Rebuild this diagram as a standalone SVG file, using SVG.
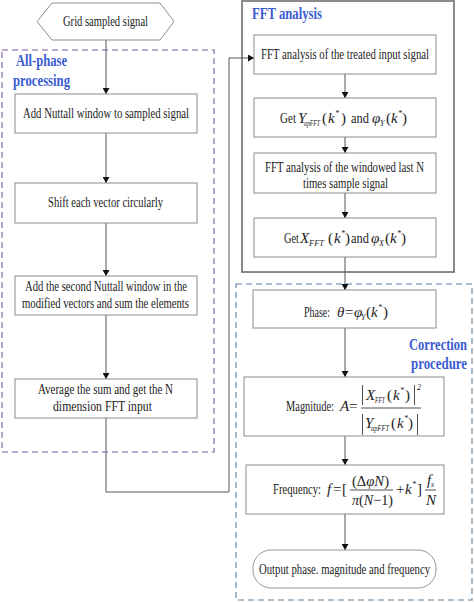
<svg xmlns="http://www.w3.org/2000/svg" width="474" height="602" viewBox="0 0 474 602">
<style>
.box{fill:#fff;stroke:#8c8c8c;stroke-width:1}
.t{font-family:"Liberation Serif",serif;font-size:14px;fill:#222}
.mi{font-family:"Liberation Serif",serif;font-style:italic;font-size:15px;fill:#222}
.mr{font-family:"Liberation Serif",serif;font-size:15px;fill:#222}
.sb{font-family:"Liberation Serif",serif;font-style:italic;font-size:8px;fill:#222}
.lbl{font-family:"Liberation Serif",serif;font-weight:bold;font-size:17px;fill:#3a5bd0}
.conn{stroke:#555;stroke-width:1;fill:none;marker-end:url(#arr)}
.ln{stroke:#222;stroke-width:0.8}
</style>
<defs>
<marker id="arr" markerWidth="6" markerHeight="7" refX="6" refY="3.5" orient="auto" markerUnits="userSpaceOnUse"><path d="M0,0 L6,3.5 L0,7 z" fill="#111"/></marker>
</defs>
<rect width="474" height="602" fill="#fff"/>

<g id="allphase-group">
<rect x="2" y="50" width="212" height="402" fill="none" stroke="#a68fc4" stroke-width="1.6" stroke-dasharray="6,4"/>
<text class="lbl" x="16" y="66" textLength="51" lengthAdjust="spacingAndGlyphs">All-phase</text>
<text class="lbl" x="13" y="86" textLength="57" lengthAdjust="spacingAndGlyphs">processing</text>
</g>
<g id="fft-group">
<rect x="242" y="1" width="212" height="271" fill="none" stroke="#666" stroke-width="1.5"/>
<text class="lbl" x="252" y="19" textLength="70" lengthAdjust="spacingAndGlyphs">FFT analysis</text>
</g>
<g id="correction-group">
<rect x="236" y="284" width="236" height="316" fill="none" stroke="#8fa8c0" stroke-width="1.6" stroke-dasharray="6,4"/>
<text class="lbl" x="409" y="350" textLength="58" lengthAdjust="spacingAndGlyphs">Correction</text>
<text class="lbl" x="411" y="369" textLength="56" lengthAdjust="spacingAndGlyphs">procedure</text>
</g>

<g id="connectors">
<path class="conn" d="M106,40 V94"/>
<path class="conn" d="M106,133 V183"/>
<path class="conn" d="M106,223 V276"/>
<path class="conn" d="M106,315 V379"/>
<path class="conn" d="M106,418 V492 H229 V58 H254"/>
<path class="conn" d="M345,74 V98"/>
<path class="conn" d="M345,137 V153"/>
<path class="conn" d="M345,193 V218"/>
<path class="conn" d="M345,257 V290"/>
<path class="conn" d="M345,328 V377"/>
<path class="conn" d="M345,436 V465"/>
<path class="conn" d="M345,514 V550"/>
</g>

<g id="start">
<polygon class="box" points="37,21.5 52,3 160,3 174,21.5 160,40 52,40"/>
<text class="t" x="63" y="26" textLength="85" lengthAdjust="spacingAndGlyphs">Grid sampled signal</text>
</g>
<g id="nuttall1">
<rect class="box" x="15" y="94" width="182" height="39"/>
<text class="t" x="23" y="118" textLength="166" lengthAdjust="spacingAndGlyphs">Add Nuttall window to sampled signal</text>
</g>
<g id="shift">
<rect class="box" x="15" y="183" width="182" height="40"/>
<text class="t" x="48" y="207" textLength="115" lengthAdjust="spacingAndGlyphs">Shift each vector circularly</text>
</g>
<g id="nuttall2">
<rect class="box" x="15" y="276" width="182" height="39"/>
<text class="t" x="25" y="291" textLength="162" lengthAdjust="spacingAndGlyphs">Add the second Nuttall window in the</text>
<text class="t" x="22" y="308" textLength="167" lengthAdjust="spacingAndGlyphs">modified vectors and sum the elements</text>
</g>
<g id="average">
<rect class="box" x="15" y="379" width="182" height="39"/>
<text class="t" x="38" y="394" textLength="135" lengthAdjust="spacingAndGlyphs">Average the sum and get the  N</text>
<text class="t" x="53" y="411" textLength="99" lengthAdjust="spacingAndGlyphs">dimension FFT input</text>
</g>

<g id="fft-treated">
<rect class="box" x="254" y="35" width="182" height="39"/>
<text class="t" x="261" y="59" textLength="168" lengthAdjust="spacingAndGlyphs">FFT analysis of the treated input signal</text>
</g>
<g id="get-y">
<rect class="box" x="254" y="98" width="182" height="39"/>
<text class="t" x="280" y="123" textLength="16" lengthAdjust="spacingAndGlyphs">Get</text>
<text class="mi" x="298" y="123">Y</text>
<text class="sb" x="304" y="126" textLength="16" lengthAdjust="spacingAndGlyphs">apFFT</text>
<text class="mr" x="322" y="123">(</text>
<text class="mi" x="328" y="123">k</text>
<text class="sb" x="335" y="116">*</text>
<text class="mr" x="341" y="123">)</text>
<text class="t" x="351" y="123" textLength="18" lengthAdjust="spacingAndGlyphs">and</text>
<text class="mi" x="372" y="123">φ</text>
<text class="sb" x="380" y="126">Y</text>
<text class="mr" x="386" y="123">(</text>
<text class="mi" x="391" y="123">k</text>
<text class="sb" x="398" y="116">*</text>
<text class="mr" x="402" y="123">)</text>
</g>
<g id="fft-windowed">
<rect class="box" x="254" y="153" width="182" height="40"/>
<text class="t" x="265" y="172" textLength="159" lengthAdjust="spacingAndGlyphs">FFT analysis of the windowed last N</text>
<text class="t" x="303" y="188" textLength="85" lengthAdjust="spacingAndGlyphs">times sample signal</text>
</g>
<g id="get-x">
<rect class="box" x="254" y="218" width="182" height="39"/>
<text class="t" x="284" y="243" textLength="15" lengthAdjust="spacingAndGlyphs">Get</text>
<text class="mi" x="300" y="243">X</text>
<text class="sb" x="309" y="246" textLength="15" lengthAdjust="spacingAndGlyphs">FFT</text>
<text class="mr" x="328" y="243">(</text>
<text class="mi" x="334" y="243">k</text>
<text class="sb" x="341" y="236">*</text>
<text class="mr" x="345" y="243">)</text>
<text class="t" x="351" y="243" textLength="18" lengthAdjust="spacingAndGlyphs">and</text>
<text class="mi" x="371" y="243">φ</text>
<text class="sb" x="379" y="246">X</text>
<text class="mr" x="385" y="243">(</text>
<text class="mi" x="390" y="243">k</text>
<text class="sb" x="397" y="236">*</text>
<text class="mr" x="401" y="243">)</text>
</g>

<g id="phase">
<rect class="box" x="253" y="290" width="183" height="38"/>
<text class="t" x="304" y="317" textLength="26" lengthAdjust="spacingAndGlyphs">Phase:</text>
<text class="mi" x="337" y="317">θ</text>
<text class="mr" x="345" y="317">=</text>
<text class="mi" x="354" y="317">φ</text>
<text class="sb" x="361" y="320">Y</text>
<text class="mr" x="366" y="317">(</text>
<text class="mi" x="371" y="317">k</text>
<text class="sb" x="378" y="310">*</text>
<text class="mr" x="383" y="317">)</text>
</g>
<g id="magnitude">
<rect class="box" x="244" y="377" width="200" height="59"/>
<text class="t" x="286" y="411" textLength="48" lengthAdjust="spacingAndGlyphs">Magnitude:</text>
<text class="mi" x="340" y="411">A</text>
<text class="mr" x="349" y="411">=</text>
<line class="ln" x1="362.5" y1="385" x2="362.5" y2="405"/>
<text class="mi" x="366" y="400">X</text>
<text class="sb" x="375" y="403" textLength="10" lengthAdjust="spacingAndGlyphs">FFT</text>
<text class="mr" x="387" y="400">(</text>
<text class="mi" x="393" y="400">k</text>
<text class="sb" x="400" y="393">*</text>
<text class="mr" x="405" y="400">)</text>
<line class="ln" x1="414.5" y1="385" x2="414.5" y2="405"/>
<text class="sb" x="417" y="390">2</text>
<line class="ln" x1="361" y1="408" x2="421" y2="408"/>
<line class="ln" x1="362.5" y1="414" x2="362.5" y2="435"/>
<text class="mi" x="365" y="428">Y</text>
<text class="sb" x="371" y="431" textLength="18" lengthAdjust="spacingAndGlyphs">apFFT</text>
<text class="mr" x="391" y="428">(</text>
<text class="mi" x="397" y="428">k</text>
<text class="sb" x="404" y="421">*</text>
<text class="mr" x="408" y="428">)</text>
<line class="ln" x1="417.5" y1="414" x2="417.5" y2="435"/>
</g>
<g id="frequency">
<rect class="box" x="246" y="465" width="198" height="49"/>
<text class="t" x="273" y="494" textLength="48" lengthAdjust="spacingAndGlyphs">Frequency:</text>
<text class="mi" x="327" y="494">f</text>
<text class="mr" x="333" y="494">=</text>
<text class="mr" x="342" y="494">[</text>
<text class="mr" x="352" y="486" textLength="37" lengthAdjust="spacingAndGlyphs">(Δ<tspan font-style="italic">φN</tspan>)</text>
<line class="ln" x1="350" y1="490" x2="393" y2="490"/>
<text class="mi" x="352" y="505" textLength="41" lengthAdjust="spacingAndGlyphs">π<tspan font-style="normal">(</tspan>N<tspan font-style="normal">−1)</tspan></text>
<text class="mr" x="396" y="494">+</text>
<text class="mi" x="405" y="494">k</text>
<text class="sb" x="412" y="487">*</text>
<text class="mr" x="417" y="494">]</text>
<text class="mi" x="427" y="485">f</text>
<text class="sb" x="431" y="487">s</text>
<line class="ln" x1="425" y1="490" x2="436" y2="490"/>
<text class="mi" x="426" y="505">N</text>
</g>
<g id="output">
<rect x="253" y="550" width="183" height="38" rx="18" fill="#fff" stroke="#8c8c8c" stroke-width="0.9"/>
<text class="t" x="259" y="574" textLength="171" lengthAdjust="spacingAndGlyphs">Output phase. magnitude and frequency</text>
</g>
</svg>
